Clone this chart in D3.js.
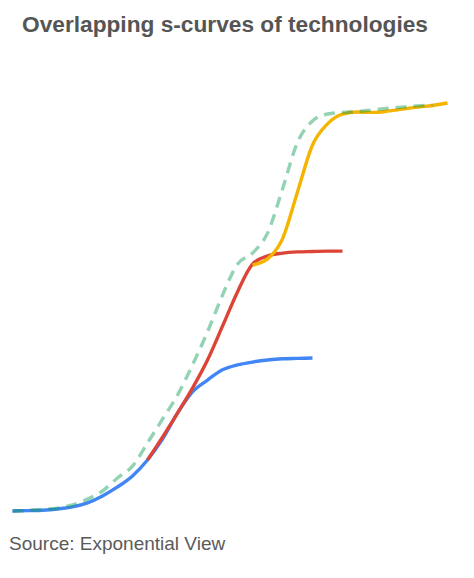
<!DOCTYPE html>
<html>
<head>
<meta charset="utf-8">
<script src="https://cdn.jsdelivr.net/npm/d3@7"></script>
<style>
  html, body { margin: 0; padding: 0; background: #fff; }
  svg { display: block; }
</style>
</head>
<body>
<svg id="chart" width="474" height="578"></svg>
<script>
// Data (x = period index, y = adoption level, 0..100)
const blueX   = [0,1,2,3,4,5,6,7,8,9,10,11,12,13,14,15,16,17,18,19,20];
const blueY   = [0,0.1,0.2,0.5,1.0,2.0,3.7,5.9,8.6,12.5,17.6,24.0,29.2,32.1,34.6,35.8,36.5,37.0,37.3,37.4,37.5];

const redX    = [9,10,11,12,13,14,15,16,17,18,19,20,21,22];
const redY    = [12.5,18.1,24.0,30.1,37.0,45.3,53.7,60.5,62.5,63.2,63.5,63.6,63.7,63.7];

const yellowX = [16,17,18,19,20,21,22,23,24,25,26,27,28,29];
const yellowY = [60.3,61.8,66.7,78.2,89.7,94.9,97.3,97.8,97.7,98.0,98.5,99.0,99.4,100];

const totalX  = [0,1,2,3,4,5,6,7,8,9,10,11,12,13,14,15,16,17,18,19,20,21,22,23,24,25,26,27,28];
const totalY  = [0,0.1,0.4,0.7,1.5,2.9,4.9,8.1,11.0,16.7,22.5,28.4,35.8,43.9,52.9,60.5,63.2,68.1,78.9,90.4,95.6,97.3,97.7,97.9,98.3,98.7,99.0,99.3,99.5];

const title = "Overlapping s-curves of technologies";
const source = "Source: Exponential View";

const svg = d3.select("#chart");

const x = d3.scaleLinear().domain([0, 29]).range([12.5, 447.5]);
const y = d3.scaleLinear().domain([0, 100]).range([511, 103]);

const line = d3.line()
  .x(d => x(d[0]))
  .y(d => y(d[1]))
  .curve(d3.curveMonotoneX);

function pairs(xs, ys) { return xs.map((v, i) => [v, ys[i]]); }

const series = [
  { data: pairs(blueX, blueY),     color: "#4285f4", dash: null, opacity: 1 },
  { data: pairs(redX, redY),       color: "#db4437", dash: null, opacity: 1 },
  { data: pairs(yellowX, yellowY), color: "#f4b400", dash: null, opacity: 1 },
  { data: pairs(totalX, totalY),   color: "#0f9d58", dash: "11,7", opacity: 0.45 }
];

svg.append("g")
  .selectAll("path")
  .data(series)
  .join("path")
  .attr("d", d => line(d.data))
  .attr("fill", "none")
  .attr("stroke", d => d.color)
  .attr("stroke-width", 3.4)
  .attr("stroke-opacity", d => d.opacity)
  .attr("stroke-dasharray", d => d.dash)
  .attr("stroke-linejoin", "round")
  .attr("stroke-linecap", "butt");

svg.append("text")
  .attr("x", 22)
  .attr("y", 31.5)
  .attr("font-family", "'Liberation Sans', Arial, sans-serif")
  .attr("font-weight", "bold")
  .attr("font-size", 22.7)
  .attr("fill", "#555555")
  .text(title);

svg.append("text")
  .attr("x", 9)
  .attr("y", 550)
  .attr("font-family", "'Liberation Sans', Arial, sans-serif")
  .attr("font-size", 19)
  .attr("fill", "#5a5a5a")
  .text(source);
</script>
</body>
</html>
